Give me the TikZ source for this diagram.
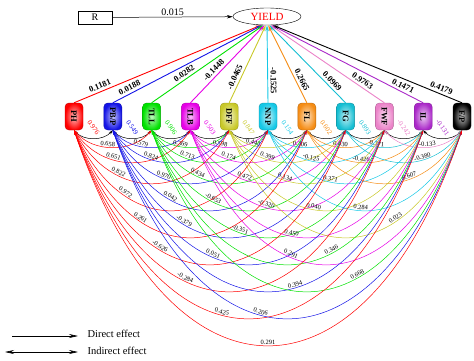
\documentclass[tikz,border=0pt]{standalone}
\usepackage{fontspec}
\setmainfont{Liberation Serif}
\usepackage{graphicx}
\usetikzlibrary{arrows.meta, shapes.geometric}

\definecolor{c0}{RGB}{255,0,0}
\definecolor{c1}{RGB}{20,20,230}
\definecolor{c2}{RGB}{0,225,0}
\definecolor{c3}{RGB}{230,0,230}
\definecolor{c4}{RGB}{200,200,40}
\definecolor{c5}{RGB}{20,200,230}
\definecolor{c6}{RGB}{245,140,20}
\definecolor{c7}{RGB}{20,190,210}
\definecolor{c8}{RGB}{235,130,200}
\definecolor{c9}{RGB}{170,40,200}
\definecolor{c10}{RGB}{0,0,0}

\tikzset{
  trait/.style={draw=#1!75!black, rounded corners=4pt, minimum width=18pt,
    minimum height=27pt, inner sep=0pt, inner color=#1!25!white, outer color=#1,
    font=\fontsize{8.5}{9}\selectfont\bfseries},
  direct/.style={{Stealth[length=6pt,width=3.5pt]}-, line width=0.9pt},
  indirect/.style={{Stealth[length=4.5pt,width=2.5pt]}-{Stealth[length=4.5pt,width=2.5pt]}, line width=0.5pt},
  coef/.style={font=\fontsize{6.5}{7}\selectfont, text=black, inner sep=0.4pt, sloped, above},
  path coef/.style={font=\fontsize{8.5}{9}\selectfont\bfseries, text=black, inner sep=0.5pt, sloped, above=2pt},
  key/.style={anchor=west, font=\fontsize{10.5}{11}\selectfont},
}

\begin{document}
\begin{tikzpicture}[x=1pt, y=-1pt]
  \useasboundingbox (0,0) rectangle (474,360);

  \node[draw, minimum width=34pt, minimum height=13pt, inner sep=0pt,
    font=\fontsize{10}{10}\selectfont] (r) at (95,17.5) {R};
  \node[draw, ellipse, minimum width=68pt, minimum height=17pt, inner sep=0pt,
    text=red, font=\fontsize{11}{11}\selectfont] (yield) at (267,16.5) {YIELD};
  \draw[-{Stealth[length=6pt,width=3.5pt]}, line width=0.5pt] (r) --
    node[above, inner sep=1pt, font=\fontsize{10}{10}\selectfont] {0.015} (yield);

  \foreach \t [count=\i from 0] in {PH,{PB/P},TLL,TLB,DFF,NNP,FL,FG,FWF,IL,{F/P}} {
    \node[trait=c\i] (n-\i) at ({74+38.8*\i},116.5) {\rotatebox{-90}{\t}};
  }

  \foreach \v/\p [count=\i from 0] in {0.1181/0.85,0.0188/0.87,0.0282/0.68,-0.1448/0.63,
      -0.0465/0.70,-0.1525/0.72,0.2665/0.74,0.0969/0.77,0.9763/0.78,0.1471/0.85,0.4179/0.88} {
    \draw[direct, c\i] ([xshift={(\i-5)*1.2}]yield.south) --
      node[path coef, pos=\p] {\v} (n-\i.north);
  }

  \foreach \v [count=\i from 0] in {0.976,0.549,0.906,0.503,0.847,0.154,0.602,0.893,-0.242,-0.131} {
    \pgfmathtruncatemacro\j{\i+1}
    \draw[indirect] (n-\i.south) .. controls +(9.7,10.7) and +(-9.7,10.7) ..
      node[pos=0.5, yshift=11pt, rotate=-55, inner sep=0pt, text=c\i,
        font=\fontsize{7}{7}\selectfont] {\v} (n-\j.south);
  }

  \foreach \i/\j/\v/\p in {
      0/2/0.658/0.44, 1/3/0.579/0.37, 2/4/0.369/0.38, 3/5/0.598/0.39, 4/6/0.442/0.32,
      5/7/0.306/0.42, 6/8/0.630/0.44, 7/9/0.371/0.41, 8/10/-0.133/0.55,
      0/3/0.651/0.35, 1/4/0.824/0.34, 2/5/0.713/0.32, 3/6/0.174/0.34, 4/7/0.399/0.34,
      5/8/-0.125/0.38, 6/9/-0.426/0.47, 7/10/-0.380/0.65,
      0/4/0.822/0.30, 1/5/0.970/0.34, 2/6/0.434/0.31, 3/7/0.472/0.36, 4/8/0.134/0.37,
      5/9/0.371/0.41, 6/10/0.607/0.65,
      0/5/0.972/0.28, 1/6/0.042/0.31, 2/7/-0.653/0.33, 3/8/-0.320/0.40, 4/9/0.040/0.44,
      5/10/0.284/0.48,
      0/6/0.261/0.30, 1/7/-0.379/0.32, 2/8/-0.351/0.39, 3/9/0.450/0.44, 4/10/0.023/0.70,
      0/7/-0.626/0.33, 1/8/0.051/0.38, 2/9/0.346/0.65, 3/10/0.291/0.38,
      0/8/-0.284/0.37, 1/9/0.394/0.58, 2/10/0.668/0.65,
      0/9/0.425/0.43, 1/10/0.206/0.43,
      0/10/0.291/0.50} {
    \pgfmathsetmacro\h{{8,17,32,53,80,107,134,161,188,215}[\j-\i-1]}
    \pgfmathsetmacro\a{9.7*(\j-\i)}
    \pgfmathsetmacro\D{\h/0.75}
    \draw[indirect, c\i] (n-\i.south) .. controls +(\a,\D) and +(-\a,\D) ..
      node[coef, pos=\p] {\v} (n-\j.south);
  }

  \node[key] (key-d) at (84,334) {Direct effect};
  \node[key] (key-i) at (84,351) {Indirect effect};
  \coordinate (key-d0) at (12,336);
  \coordinate (key-d1) at (78,336);
  \coordinate (key-i0) at (5,352);
  \coordinate (key-i1) at (78,352);
  \draw[-{Stealth[length=9pt,width=4pt]}, line width=0.6pt] (key-d0) -- (key-d1);
  \draw[{Stealth[length=9pt,width=4pt]}-{Stealth[length=9pt,width=4pt]}, line width=0.6pt]
    (key-i0) -- (key-i1);
\end{tikzpicture}
\end{document}
